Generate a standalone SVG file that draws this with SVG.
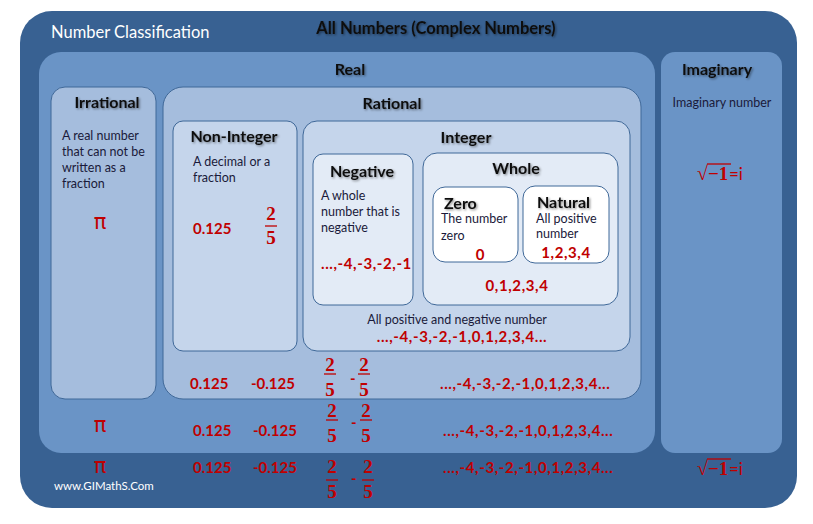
<svg xmlns="http://www.w3.org/2000/svg" width="813" height="524" viewBox="0 0 813 524">
<defs>
<filter id="sh" x="-10%" y="-30%" width="120%" height="160%">
<feDropShadow dx="1.2" dy="1.2" stdDeviation="1" flood-color="#000" flood-opacity="0.45"/>
</filter>
<style>
.box{stroke:#3F6898;stroke-width:1}
.l0{fill:#386192}
.l1{fill:#6A94C6}
.l2{fill:#A5BDDD}
.l3{fill:#C5D5EB}
.l4{fill:#E3EBF6}
.l5{fill:#FFFFFF}
text{font-family:Lato,"Open Sans","Liberation Sans",sans-serif}
.h{font-weight:bold;font-size:16px;fill:#111;text-anchor:middle;filter:url(#sh)}
.d{font-size:12.5px;fill:#1a1a3a}
.r{font-weight:bold;font-size:15px;fill:#C00000}
.ls{letter-spacing:0.6px}
.f{font-family:"Liberation Serif","DejaVu Serif",serif;font-weight:bold;font-size:19px;fill:#C00000;text-anchor:middle}
.pi{font-family:"DejaVu Sans","Liberation Sans",sans-serif;font-size:21px;fill:#C00000;text-anchor:middle}
.bar{stroke:#C00000;stroke-width:1.3}
.w{fill:#fff}
.sq{font-family:"Liberation Serif",serif;font-size:20px;fill:#C00000}
.sq1{font-family:"Liberation Serif",serif;font-weight:bold;font-size:19px;fill:#C00000}
.eq{font-size:17px;fill:#C00000}
</style>
</defs>

<g id="all-numbers">
<rect class="l0" x="20" y="11" width="777" height="497" rx="32"/>
<text class="w" x="51" y="38" style="font-size:16.5px">Number Classification</text>
<text class="h" x="436" y="34" style="font-size:16.5px">All Numbers (Complex Numbers)</text>
<text class="pi" x="100" y="473">π</text>
<text class="r" x="193" y="473">0.125</text>
<text class="r" x="253" y="473">-0.125</text>
<text class="f" x="332" y="473">2</text><line class="bar" x1="326" y1="480" x2="338" y2="480"/><text class="f" x="332" y="498">5</text>
<text class="r" x="351" y="484">-</text>
<text class="f" x="368" y="473">2</text><line class="bar" x1="362" y1="480" x2="374" y2="480"/><text class="f" x="368" y="498">5</text>
<text class="r ls" x="443" y="473">...,-4,-3,-2,-1,0,1,2,3,4...</text>
<text class="sq" x="697" y="475">√</text>
<line class="bar" x1="707" y1="459" x2="731" y2="459"/>
<text class="sq1" x="708" y="475">−1</text>
<text class="eq" x="729" y="475">=i</text>
<text class="w" x="54" y="490" style="font-size:11.5px">www.GIMathS.Com</text>
</g>

<g id="real">
<rect class="l1" x="39" y="52" width="616" height="401" rx="22"/>
<text class="h" x="350" y="75">Real</text>
<text class="pi" x="100" y="432">π</text>
<text class="r" x="193" y="436">0.125</text>
<text class="r" x="253" y="436">-0.125</text>
<text class="f" x="332" y="417">2</text><line class="bar" x1="326" y1="420" x2="338" y2="420"/><text class="f" x="332" y="442">5</text>
<text class="r" x="351" y="428">-</text>
<text class="f" x="366" y="417">2</text><line class="bar" x1="360" y1="420" x2="372" y2="420"/><text class="f" x="366" y="442">5</text>
<text class="r ls" x="443" y="436">...,-4,-3,-2,-1,0,1,2,3,4...</text>
</g>

<g id="imaginary">
<rect class="l1" x="661" y="52" width="121" height="401" rx="14"/>
<text class="h" x="717" y="75">Imaginary</text>
<text class="d" x="722" y="107" style="text-anchor:middle">Imaginary number</text>
<text class="sq" x="697" y="180">√</text>
<line class="bar" x1="707" y1="164" x2="731" y2="164"/>
<text class="sq1" x="708" y="180">−1</text>
<text class="eq" x="729" y="180">=i</text>
</g>

<g id="irrational">
<rect class="l2 box" x="51" y="87" width="105" height="312" rx="14"/>
<text class="h" x="107" y="108">Irrational</text>
<text class="d" x="62" y="140">A real number</text>
<text class="d" x="62" y="156">that can not be</text>
<text class="d" x="62" y="172">written  as a</text>
<text class="d" x="62" y="188">fraction</text>
<text class="pi" x="100" y="229">π</text>
</g>

<g id="rational">
<rect class="l2 box" x="163" y="87" width="478" height="312" rx="20"/>
<text class="h" x="392" y="109">Rational</text>
<text class="r" x="190" y="389">0.125</text>
<text class="r" x="251" y="389">-0.125</text>
<text class="f" x="330" y="371">2</text><line class="bar" x1="324" y1="374" x2="336" y2="374"/><text class="f" x="330" y="396">5</text>
<text class="r" x="350" y="384">-</text>
<text class="f" x="364" y="371">2</text><line class="bar" x1="358" y1="374" x2="370" y2="374"/><text class="f" x="364" y="396">5</text>
<text class="r ls" x="440" y="389">...,-4,-3,-2,-1,0,1,2,3,4...</text>
</g>

<g id="non-integer">
<rect class="l3 box" x="173" y="121" width="124" height="230" rx="10"/>
<text class="h" x="234" y="142">Non-Integer</text>
<text class="d" x="193" y="166">A decimal or a</text>
<text class="d" x="193" y="182">fraction</text>
<text class="r" x="193" y="234">0.125</text>
<text class="f" x="271" y="220">2</text><line class="bar" x1="265" y1="226" x2="277" y2="226"/><text class="f" x="271" y="244">5</text>
</g>

<g id="integer">
<rect class="l3 box" x="303" y="121" width="327" height="230" rx="14"/>
<text class="h" x="466" y="143">Integer</text>
<text class="d" x="457" y="324" style="text-anchor:middle">All positive  and negative number</text>
<text class="r ls" x="462" y="342" style="text-anchor:middle">...,-4,-3,-2,-1,0,1,2,3,4...</text>
</g>

<g id="negative">
<rect class="l4 box" x="313" y="154" width="100" height="151" rx="10"/>
<text class="h" x="362" y="177">Negative</text>
<text class="d" x="321" y="200">A whole</text>
<text class="d" x="321" y="216">number that is</text>
<text class="d" x="321" y="232">negative</text>
<text class="r ls" x="321" y="269">...,-4,-3,-2,-1</text>
</g>

<g id="whole">
<rect class="l4 box" x="423" y="153" width="195" height="152" rx="14"/>
<text class="h" x="516" y="174">Whole</text>
<text class="r ls" x="517" y="291" style="text-anchor:middle">0,1,2,3,4</text>
</g>

<g id="zero">
<rect class="l5 box" x="433" y="187" width="85" height="75" rx="12"/>
<text class="h" x="444" y="209" style="text-anchor:start">Zero</text>
<text class="d" x="441" y="223">The number</text>
<text class="d" x="441" y="240">zero</text>
<text class="r" x="480" y="260" style="text-anchor:middle">0</text>
</g>

<g id="natural">
<rect class="l5 box" x="523" y="186" width="86" height="77" rx="12"/>
<text class="h" x="537" y="208" style="text-anchor:start">Natural</text>
<text class="d" x="536" y="223">All positive</text>
<text class="d" x="536" y="238">number</text>
<text class="r ls" x="566" y="258" style="text-anchor:middle">1,2,3,4</text>
</g>
</svg>
